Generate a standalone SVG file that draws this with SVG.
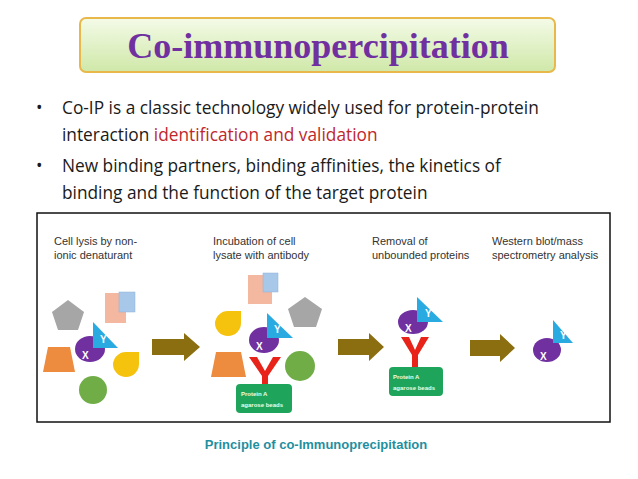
<svg xmlns="http://www.w3.org/2000/svg" width="638" height="479" viewBox="0 0 638 479">
<defs>
<linearGradient id="hg" x1="0" y1="0" x2="0" y2="1"><stop offset="0" stop-color="#f4fbe8"/><stop offset="1" stop-color="#cfe8a8"/></linearGradient>
</defs>
<style>
.b{font-family:"Open Sans","Liberation Sans",sans-serif;font-size:17.3px;fill:#1a1a1a}
.r{fill:#c0272d}
.s{font-family:"Liberation Sans",sans-serif;font-size:11px;fill:#333}
.xy{font-family:"Liberation Sans",sans-serif;font-size:10px;font-weight:bold;fill:#fff}
.pa{font-family:"Liberation Sans",sans-serif;font-size:6px;font-weight:bold;fill:#e8ffe8}
.arr{fill:#8a6e10}
.drop{fill:#f5c20d}
.pur{fill:#7030a0}
.tri{fill:#29abe2}
.pent{fill:#a6a6a6}
.sal{fill:#f4b8a0}
.blu{fill:#a8c8ea;stroke:#8fb0d8;stroke-width:0.5}
.org{fill:#ed8b3e}
.grn{fill:#70ad47}
.ab{fill:#e8241a}
.bead{fill:#1fa55b}
</style>
<rect width="638" height="479" fill="#fff"/>
<g id="header">
<rect x="80" y="18" width="475" height="54" rx="6" fill="url(#hg)" stroke="#e8b84a" stroke-width="2"/>
<text x="318" y="58" text-anchor="middle" font-family="Liberation Serif,serif" font-weight="bold" font-size="36" fill="#7030a0">Co-immunopercipitation</text>
</g>
<g id="bullets">
<text x="36" y="114" class="b">•</text>
<text x="62" y="114" class="b">Co-IP is a classic technology widely used for protein-protein</text>
<text x="62" y="141" class="b">interaction <tspan class="r">identification and validation</tspan></text>
<text x="36" y="172" class="b">•</text>
<text x="62" y="172" class="b">New binding partners, binding affinities, the kinetics of</text>
<text x="62" y="199" class="b">binding and the function of the target protein</text>
</g>
<g id="figure">
<rect x="37" y="213" width="573" height="209" fill="#fff" stroke="#111" stroke-width="1.5"/>
<text x="54" y="245" class="s">Cell lysis by non-</text><text x="54" y="259" class="s">ionic denaturant</text>
<text x="213" y="245" class="s">Incubation of cell</text><text x="213" y="259" class="s">lysate with antibody</text>
<text x="372" y="245" class="s">Removal of</text><text x="372" y="259" class="s">unbounded proteins</text>
<text x="492" y="245" class="s">Western blot/mass</text><text x="492" y="259" class="s">spectrometry analysis</text>
</g>
<g id="step1">
<polygon class="pent" points="68,300 84,312 78,330 58,330 52,312"/>
<rect class="sal" x="105" y="293" width="21" height="30"/>
<rect class="blu" x="119" y="292" width="16" height="20"/>
<polygon class="org" points="48,347 70,347 75,372 43,372"/>
<ellipse class="pur" cx="90" cy="349" rx="15" ry="13"/>
<polygon class="tri" points="93,322 118,348 93,348"/>
<text x="100" y="343" class="xy">Y</text><text x="82" y="359" class="xy">X</text>
<path class="drop" d="M113,364 A13,13 0 0 0 139,364 V352 H126 A13,13 0 0 0 113,364 Z"/>
<circle class="grn" cx="93" cy="390" r="14"/>
</g>
<g id="step2">
<rect class="sal" x="248" y="275" width="24" height="29"/>
<rect class="blu" x="263" y="273" width="15" height="19"/>
<path class="drop" d="M215,323 A13,13 0 0 0 241,323 V311 H228 A13,13 0 0 0 215,323 Z"/>
<polygon class="pent" points="305,297 322,309 316,327 294,327 288,309"/>
<ellipse class="pur" cx="264" cy="340" rx="15" ry="13"/>
<polygon class="tri" points="267,313 293,338 267,338"/>
<text x="274" y="333" class="xy">Y</text><text x="256" y="350" class="xy">X</text>
<polygon class="org" points="216,352 241,352 246,377 211,377"/>
<circle class="grn" cx="300" cy="366" r="15"/>
<path class="ab" d="M249,357 L257,357 L265,371 L273,357 L281,357 L268,376 L268,386 L262,386 L262,376 Z"/>
<rect class="bead" x="236" y="384" width="56" height="29" rx="4"/>
<text x="241" y="396" class="pa">Protein A</text><text x="241" y="407" class="pa">agarose beads</text>
</g>
<g id="step3">
<ellipse class="pur" cx="413" cy="322" rx="15" ry="12"/>
<polygon class="tri" points="417,297 443,322 417,322"/>
<text x="425" y="317" class="xy">Y</text><text x="405" y="332" class="xy">X</text>
<path class="ab" d="M401,337 L409,337 L415,350 L421,337 L429,337 L418,355 L418,368 L412,368 L412,355 Z"/>
<rect class="bead" x="389" y="367" width="54" height="29" rx="4"/>
<text x="393" y="379" class="pa">Protein A</text><text x="393" y="390" class="pa">agarose beads</text>
</g>
<g id="step4">
<ellipse class="pur" cx="547" cy="350" rx="14" ry="12"/>
<polygon class="tri" points="553,320 573,343 553,343"/>
<text x="560" y="339" class="xy">Y</text><text x="540" y="360" class="xy">X</text>
</g>
<g id="connectors">
<polygon class="arr" points="152,339 184,339 184,333 200,347 184,361 184,355 152,355"/>
<polygon class="arr" points="338,339 369,339 369,333 384,347 369,361 369,355 338,355"/>
<polygon class="arr" points="470,340 500,340 500,334 515,348 500,362 500,356 470,356"/>
</g>
<text x="316" y="449" text-anchor="middle" font-family="Liberation Sans,sans-serif" font-weight="bold" font-size="13" fill="#1f8fa0">Principle of co-Immunoprecipitation</text>
</svg>
